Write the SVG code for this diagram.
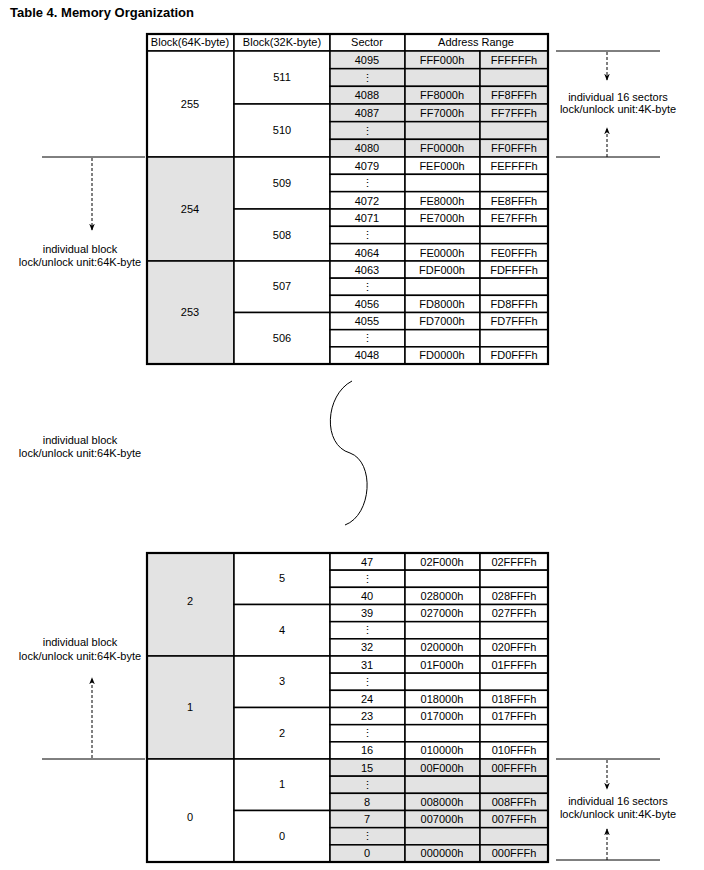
<svg xmlns="http://www.w3.org/2000/svg" width="704" height="870" viewBox="0 0 704 870">
<style>
text{font-family:"Liberation Sans",Arial,sans-serif;font-size:11px;fill:#000;text-anchor:middle}
.t{font-size:13px;font-weight:bold;text-anchor:start}
.c{stroke:#000;stroke-width:1.5;fill:#fff}
.g{stroke:#000;stroke-width:1.5;fill:#e3e3e3}
.o{fill:none;stroke:#000;stroke-width:2.2}
.l{stroke:#000;stroke-width:1;fill:none}
.d{stroke:#000;stroke-width:1;stroke-dasharray:3,2;fill:none}
</style>
<defs><marker id="a" viewBox="0 0 10 10" refX="9" refY="5" markerWidth="7" markerHeight="7" orient="auto"><path d="M0,1 L10,5 L0,9 L3,5 Z" fill="#000"/></marker></defs>
<text class="t" x="10" y="17">Table 4. Memory Organization</text>
<g id="header">
<rect class="c" x="147" y="34" width="87" height="17"/><rect class="c" x="234" y="34" width="96" height="17"/><rect class="c" x="330" y="34" width="75" height="17"/><rect class="c" x="405" y="34" width="143" height="17"/>
<text x="190" y="46">Block(64K-byte)</text><text x="282" y="46">Block(32K-byte)</text><text x="367" y="46">Sector</text><text x="476" y="46">Address Range</text>
</g>
<g id="block255">
<rect class="c" x="147" y="51" width="87" height="106"/><text x="190" y="108">255</text>
<rect class="c" x="234" y="51" width="96" height="53"/><text x="282" y="81">511</text>
<rect class="c" x="234" y="104" width="96" height="53"/><text x="282" y="134">510</text>
<g class="g"><rect x="330" y="51" width="75" height="17.67"/><rect x="405" y="51" width="75" height="17.67"/><rect x="480" y="51" width="68" height="17.67"/>
<rect x="330" y="68.67" width="75" height="17.67"/><rect x="405" y="68.67" width="75" height="17.67"/><rect x="480" y="68.67" width="68" height="17.67"/>
<rect x="330" y="86.33" width="75" height="17.67"/><rect x="405" y="86.33" width="75" height="17.67"/><rect x="480" y="86.33" width="68" height="17.67"/>
<rect x="330" y="104" width="75" height="17.67"/><rect x="405" y="104" width="75" height="17.67"/><rect x="480" y="104" width="68" height="17.67"/>
<rect x="330" y="121.67" width="75" height="17.67"/><rect x="405" y="121.67" width="75" height="17.67"/><rect x="480" y="121.67" width="68" height="17.67"/>
<rect x="330" y="139.33" width="75" height="17.67"/><rect x="405" y="139.33" width="75" height="17.67"/><rect x="480" y="139.33" width="68" height="17.67"/></g>
<text x="367" y="64">4095</text><text x="442" y="64">FFF000h</text><text x="514" y="64">FFFFFFh</text>
<text x="367" y="82">⋮</text>
<text x="367" y="99">4088</text><text x="442" y="99">FF8000h</text><text x="514" y="99">FF8FFFh</text>
<text x="367" y="117">4087</text><text x="442" y="117">FF7000h</text><text x="514" y="117">FF7FFFh</text>
<text x="367" y="135">⋮</text>
<text x="367" y="152">4080</text><text x="442" y="152">FF0000h</text><text x="514" y="152">FF0FFFh</text>
</g>
<g id="block254">
<rect class="g" x="147" y="157" width="87" height="104"/><text x="190" y="213">254</text>
<rect class="c" x="234" y="157" width="96" height="52"/><text x="282" y="187">509</text>
<rect class="c" x="234" y="209" width="96" height="52"/><text x="282" y="239">508</text>
<g class="c"><rect x="330" y="157" width="75" height="17.33"/><rect x="405" y="157" width="75" height="17.33"/><rect x="480" y="157" width="68" height="17.33"/>
<rect x="330" y="174.33" width="75" height="17.33"/><rect x="405" y="174.33" width="75" height="17.33"/><rect x="480" y="174.33" width="68" height="17.33"/>
<rect x="330" y="191.67" width="75" height="17.33"/><rect x="405" y="191.67" width="75" height="17.33"/><rect x="480" y="191.67" width="68" height="17.33"/>
<rect x="330" y="209" width="75" height="17.33"/><rect x="405" y="209" width="75" height="17.33"/><rect x="480" y="209" width="68" height="17.33"/>
<rect x="330" y="226.33" width="75" height="17.33"/><rect x="405" y="226.33" width="75" height="17.33"/><rect x="480" y="226.33" width="68" height="17.33"/>
<rect x="330" y="243.67" width="75" height="17.33"/><rect x="405" y="243.67" width="75" height="17.33"/><rect x="480" y="243.67" width="68" height="17.33"/></g>
<text x="367" y="170">4079</text><text x="442" y="170">FEF000h</text><text x="514" y="170">FEFFFFh</text>
<text x="367" y="187">⋮</text>
<text x="367" y="205">4072</text><text x="442" y="205">FE8000h</text><text x="514" y="205">FE8FFFh</text>
<text x="367" y="222">4071</text><text x="442" y="222">FE7000h</text><text x="514" y="222">FE7FFFh</text>
<text x="367" y="239">⋮</text>
<text x="367" y="257">4064</text><text x="442" y="257">FE0000h</text><text x="514" y="257">FE0FFFh</text>
</g>
<g id="block253">
<rect class="g" x="147" y="261" width="87" height="103"/><text x="190" y="316">253</text>
<rect class="c" x="234" y="261" width="96" height="51.5"/><text x="282" y="290">507</text>
<rect class="c" x="234" y="312.5" width="96" height="51.5"/><text x="282" y="342">506</text>
<g class="c"><rect x="330" y="261" width="75" height="17.17"/><rect x="405" y="261" width="75" height="17.17"/><rect x="480" y="261" width="68" height="17.17"/>
<rect x="330" y="278.17" width="75" height="17.17"/><rect x="405" y="278.17" width="75" height="17.17"/><rect x="480" y="278.17" width="68" height="17.17"/>
<rect x="330" y="295.33" width="75" height="17.17"/><rect x="405" y="295.33" width="75" height="17.17"/><rect x="480" y="295.33" width="68" height="17.17"/>
<rect x="330" y="312.5" width="75" height="17.17"/><rect x="405" y="312.5" width="75" height="17.17"/><rect x="480" y="312.5" width="68" height="17.17"/>
<rect x="330" y="329.67" width="75" height="17.17"/><rect x="405" y="329.67" width="75" height="17.17"/><rect x="480" y="329.67" width="68" height="17.17"/>
<rect x="330" y="346.83" width="75" height="17.17"/><rect x="405" y="346.83" width="75" height="17.17"/><rect x="480" y="346.83" width="68" height="17.17"/></g>
<text x="367" y="274">4063</text><text x="442" y="274">FDF000h</text><text x="514" y="274">FDFFFFh</text>
<text x="367" y="291">⋮</text>
<text x="367" y="308">4056</text><text x="442" y="308">FD8000h</text><text x="514" y="308">FD8FFFh</text>
<text x="367" y="325">4055</text><text x="442" y="325">FD7000h</text><text x="514" y="325">FD7FFFh</text>
<text x="367" y="342">⋮</text>
<text x="367" y="359">4048</text><text x="442" y="359">FD0000h</text><text x="514" y="359">FD0FFFh</text>
</g>
<rect class="o" x="147" y="34" width="401" height="330"/>
<g id="block2">
<rect class="g" x="147" y="553" width="87" height="103"/><text x="190" y="605">2</text>
<rect class="c" x="234" y="553" width="96" height="51.5"/><text x="282" y="582">5</text>
<rect class="c" x="234" y="604.5" width="96" height="51.5"/><text x="282" y="634">4</text>
<g class="c"><rect x="330" y="553" width="75" height="17.17"/><rect x="405" y="553" width="75" height="17.17"/><rect x="480" y="553" width="68" height="17.17"/>
<rect x="330" y="570.17" width="75" height="17.17"/><rect x="405" y="570.17" width="75" height="17.17"/><rect x="480" y="570.17" width="68" height="17.17"/>
<rect x="330" y="587.33" width="75" height="17.17"/><rect x="405" y="587.33" width="75" height="17.17"/><rect x="480" y="587.33" width="68" height="17.17"/>
<rect x="330" y="604.5" width="75" height="17.17"/><rect x="405" y="604.5" width="75" height="17.17"/><rect x="480" y="604.5" width="68" height="17.17"/>
<rect x="330" y="621.67" width="75" height="17.17"/><rect x="405" y="621.67" width="75" height="17.17"/><rect x="480" y="621.67" width="68" height="17.17"/>
<rect x="330" y="638.83" width="75" height="17.17"/><rect x="405" y="638.83" width="75" height="17.17"/><rect x="480" y="638.83" width="68" height="17.17"/></g>
<text x="367" y="566">47</text><text x="442" y="566">02F000h</text><text x="514" y="566">02FFFFh</text>
<text x="367" y="583">⋮</text>
<text x="367" y="600">40</text><text x="442" y="600">028000h</text><text x="514" y="600">028FFFh</text>
<text x="367" y="617">39</text><text x="442" y="617">027000h</text><text x="514" y="617">027FFFh</text>
<text x="367" y="634">⋮</text>
<text x="367" y="651">32</text><text x="442" y="651">020000h</text><text x="514" y="651">020FFFh</text>
</g>
<g id="block1">
<rect class="g" x="147" y="656" width="87" height="103"/><text x="190" y="711">1</text>
<rect class="c" x="234" y="656" width="96" height="51.5"/><text x="282" y="685">3</text>
<rect class="c" x="234" y="707.5" width="96" height="51.5"/><text x="282" y="737">2</text>
<g class="c"><rect x="330" y="656" width="75" height="17.17"/><rect x="405" y="656" width="75" height="17.17"/><rect x="480" y="656" width="68" height="17.17"/>
<rect x="330" y="673.17" width="75" height="17.17"/><rect x="405" y="673.17" width="75" height="17.17"/><rect x="480" y="673.17" width="68" height="17.17"/>
<rect x="330" y="690.33" width="75" height="17.17"/><rect x="405" y="690.33" width="75" height="17.17"/><rect x="480" y="690.33" width="68" height="17.17"/>
<rect x="330" y="707.5" width="75" height="17.17"/><rect x="405" y="707.5" width="75" height="17.17"/><rect x="480" y="707.5" width="68" height="17.17"/>
<rect x="330" y="724.67" width="75" height="17.17"/><rect x="405" y="724.67" width="75" height="17.17"/><rect x="480" y="724.67" width="68" height="17.17"/>
<rect x="330" y="741.83" width="75" height="17.17"/><rect x="405" y="741.83" width="75" height="17.17"/><rect x="480" y="741.83" width="68" height="17.17"/></g>
<text x="367" y="669">31</text><text x="442" y="669">01F000h</text><text x="514" y="669">01FFFFh</text>
<text x="367" y="686">⋮</text>
<text x="367" y="703">24</text><text x="442" y="703">018000h</text><text x="514" y="703">018FFFh</text>
<text x="367" y="720">23</text><text x="442" y="720">017000h</text><text x="514" y="720">017FFFh</text>
<text x="367" y="737">⋮</text>
<text x="367" y="754">16</text><text x="442" y="754">010000h</text><text x="514" y="754">010FFFh</text>
</g>
<g id="block0">
<rect class="c" x="147" y="759" width="87" height="103"/><text x="190" y="821">0</text>
<rect class="c" x="234" y="759" width="96" height="51.5"/><text x="282" y="788">1</text>
<rect class="c" x="234" y="810.5" width="96" height="51.5"/><text x="282" y="840">0</text>
<g class="g"><rect x="330" y="759" width="75" height="17.17"/><rect x="405" y="759" width="75" height="17.17"/><rect x="480" y="759" width="68" height="17.17"/>
<rect x="330" y="776.17" width="75" height="17.17"/><rect x="405" y="776.17" width="75" height="17.17"/><rect x="480" y="776.17" width="68" height="17.17"/>
<rect x="330" y="793.33" width="75" height="17.17"/><rect x="405" y="793.33" width="75" height="17.17"/><rect x="480" y="793.33" width="68" height="17.17"/>
<rect x="330" y="810.5" width="75" height="17.17"/><rect x="405" y="810.5" width="75" height="17.17"/><rect x="480" y="810.5" width="68" height="17.17"/>
<rect x="330" y="827.67" width="75" height="17.17"/><rect x="405" y="827.67" width="75" height="17.17"/><rect x="480" y="827.67" width="68" height="17.17"/>
<rect x="330" y="844.83" width="75" height="17.17"/><rect x="405" y="844.83" width="75" height="17.17"/><rect x="480" y="844.83" width="68" height="17.17"/></g>
<text x="367" y="772">15</text><text x="442" y="772">00F000h</text><text x="514" y="772">00FFFFh</text>
<text x="367" y="789">⋮</text>
<text x="367" y="806">8</text><text x="442" y="806">008000h</text><text x="514" y="806">008FFFh</text>
<text x="367" y="823">7</text><text x="442" y="823">007000h</text><text x="514" y="823">007FFFh</text>
<text x="367" y="840">⋮</text>
<text x="367" y="857">0</text><text x="442" y="857">000000h</text><text x="514" y="857">000FFFh</text>
</g>
<rect class="o" x="147" y="553" width="401" height="309"/>
<g id="connectors">
<path class="l" d="M556,51H660M556,157H660M42,157H145M42,759H145M556,759H660M556,860H660"/>
<path class="d" d="M607,52V80" marker-end="url(#a)"/>
<path class="d" d="M607,157V128" marker-end="url(#a)"/>
<path class="d" d="M92,158V230" marker-end="url(#a)"/>
<path class="d" d="M92,758V678" marker-end="url(#a)"/>
<path class="d" d="M607,760V789" marker-end="url(#a)"/>
<path class="d" d="M607,860V829" marker-end="url(#a)"/>
<path class="l" d="M352,381C325,395 322,445 350,453C375,462 372,515 345,525"/>
</g>
<g id="notes">
<text x="618" y="101">individual 16 sectors</text><text x="618" y="113">lock/unlock unit:4K-byte</text>
<text x="80" y="253">individual block</text><text x="80" y="266">lock/unlock unit:64K-byte</text>
<text x="80" y="444">individual block</text><text x="80" y="457">lock/unlock unit:64K-byte</text>
<text x="80" y="646">individual block</text><text x="80" y="660">lock/unlock unit:64K-byte</text>
<text x="618" y="805">individual 16 sectors</text><text x="618" y="818">lock/unlock unit:4K-byte</text>
</g>
</svg>
